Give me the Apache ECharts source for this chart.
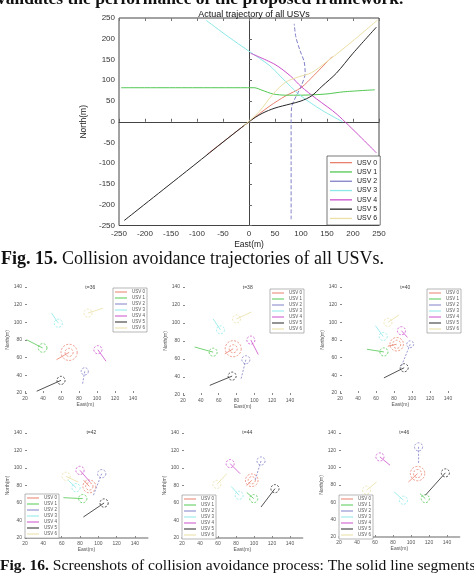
<!DOCTYPE html>
<html>
<head>
<meta charset="utf-8">
<script src="https://cdn.jsdelivr.net/npm/echarts@6/dist/echarts.min.js"></script>
<style>
    html, body { margin: 0; background: #fff; }
    #chart { width: 474px; height: 576px; }
</style>
</head>
<body>
<div id="chart"></div>
<script>
    // USV names / colours
    const usvNames = ['USV 0', 'USV 1', 'USV 2', 'USV 3', 'USV 4', 'USV 5', 'USV 6'];
    const usvColors = ['#e8806c', '#52c852', '#8080c8', '#8ce8e8', '#cc4fcc', '#262626', '#eadfa4'];

    // Fig. 15: full trajectories [east, north]
    const traj0 = [[-80, -78], [-40, -39], [0, 0], [40, 38], [70, 62], [100, 82], [125, 112], [160, 157]];
    const traj1 = [[-246, 82], [-100, 82], [10, 82], [25, 76], [46, 67], [72, 64], [100, 64], [123, 65], [150, 67], [181, 72], [242, 77]];
    const traj2 = [[81, -235], [81, -100], [81, 0], [82, 35], [90, 60], [100, 85], [108, 118], [106, 145], [98, 172], [90, 205], [87, 236]];
    const traj3 = [[-82, 244], [-40, 205], [0, 170], [40, 135], [60, 110], [80, 85], [100, 62], [140, 28], [180, 0]];
    const traj4 = [[3, 165], [50, 138], [80, 110], [100, 85], [130, 55], [170, 17], [245, -75]];
    const traj5 = [[-240, -238], [-120, -119], [0, 0], [25, 20], [50, 33], [80, 43], [100, 50], [120, 62], [140, 85], [168, 117], [200, 165], [245, 228]];
    const traj6 = [[-10, -10], [20, 25], [45, 65], [70, 95], [95, 108], [120, 118], [150, 145], [200, 195], [248, 246]];
    const trajectories = [traj0, traj1, traj2, traj3, traj4, traj5, traj6];

    const mainTicks = [-250, 250, 50];

    // Fig. 16 snapshots, one row per USV: [east, north, radius, outer radius, segment end east, segment end north]
    const snapTitles = ['t=36', 't=38', 't=40', 't=42', 't=44', 't=46'];
    const snap36 = [
        [69, 66, 4.5, 9, 55, 57.7],
        [39.6, 71, 4.8, 0, 21.8, 80.3],
        [86.4, 44.5, 4, 0, 83.8, 29.4],
        [57, 99, 4.5, 0, 49.5, 110.5],
        [101, 69, 4.5, 0, 110, 56],
        [60, 34.3, 4.5, 0, 33, 22],
        [90, 110.5, 4.5, 0, 106.7, 116]
    ];
    const snap38 = [
        [76.3, 71.4, 4.5, 9, 66.9, 65.7],
        [53.8, 67.6, 4.5, 0, 33.1, 73.3],
        [90.5, 59.2, 4.5, 0, 84.9, 37.1],
        [62, 92.4, 4.5, 0, 53.8, 104.6],
        [96.1, 81, 4.5, 0, 104.4, 65],
        [75.1, 41, 4.5, 0, 50, 30.7],
        [80, 104.6, 4.5, 0, 96.9, 112.2]
    ];
    const snap40 = [
        [83, 75.2, 4.5, 7.5, 73, 73],
        [68.8, 66.5, 4.5, 0, 50, 69.5],
        [98, 75.2, 3.8, 0, 87.5, 48.6],
        [68, 84, 4.5, 0, 59.4, 96.2],
        [88.3, 90.5, 4.5, 0, 95, 82.9],
        [91.3, 48.6, 4.5, 0, 68.8, 37.1],
        [73.3, 100, 4.5, 0, 85.6, 108.4]
    ];
    const snap42 = [
        [90.2, 79, 4, 7, 84, 86],
        [83, 65, 4.5, 0, 61.9, 66.1],
        [103.7, 93.5, 4.5, 0, 94.6, 68.8],
        [75.7, 77.5, 4.5, 0, 67.3, 85.9],
        [80, 97.3, 4.5, 0, 91, 84],
        [106.3, 60, 4.5, 0, 83.7, 44],
        [64.8, 90.5, 4.5, 0, 78, 84]
    ];
    const snap44 = [
        [97.5, 86, 4, 7, 92, 80],
        [99.7, 65, 4.5, 0, 92, 72],
        [107.8, 108, 4.5, 0, 101.2, 86],
        [83.5, 68.8, 4.5, 0, 74.6, 79],
        [73.5, 105, 4.5, 0, 84.6, 93.5],
        [123.3, 76.4, 4.5, 0, 107.8, 55.4],
        [58.7, 81.3, 4.5, 0, 69.8, 93.5]
    ];
    const snap46 = [
        [107.3, 93.2, 4.5, 8, 97.2, 83.5],
        [115.9, 64.3, 4.5, 0, 110, 70],
        [108.4, 124, 4.5, 0, 108.4, 104.7],
        [91.6, 62.4, 4.5, 0, 81.2, 72],
        [65.5, 112.4, 4.5, 0, 76.7, 102.8],
        [138.2, 94, 4.5, 0, 115.9, 68.1],
        [50.6, 74, 4.5, 0, 61.8, 83.5]
    ];
    const snapshots = [snap36, snap38, snap40, snap42, snap44, snap46];
    const snapXTicks = [20, 154, 20];
    const snapYTicks = [20, 140, 20];

    // layout of the six small panels (px)
    const panels = [
        { left: 25, top: 287, width: 120.6, height: 106, legend: [113, 288], title: 280 },
        { left: 183, top: 287, width: 119.5, height: 108, legend: [270, 289], title: 280 },
        { left: 340, top: 287, width: 120.6, height: 106, legend: [427, 289], title: 280 },
        { left: 25, top: 433, width: 122.8, height: 105, legend: [25, 494], title: 425, axisLine: true },
        { left: 182, top: 433, width: 120.6, height: 105, legend: [182, 495], title: 425, axisLine: true },
        { left: 339, top: 433, width: 120.6, height: 104, legend: [339, 495], title: 425, axisLine: true }
    ];

    const serif = '"Liberation Serif", "DejaVu Serif", serif';
    const sans = '"Liberation Sans", Arial, sans-serif';

    const renderUsv = (params, api) => {
        const c = api.coord([api.value(0), api.value(1)]);
        const e = api.coord([api.value(4), api.value(5)]);
        const r = api.size([api.value(2), 0])[0];
        const ro = api.size([api.value(3), 0])[0];
        const color = api.visual('color');
        const dashed = params.seriesName === 'USV 2';
        const children = [
            { type: 'circle', shape: { cx: c[0], cy: c[1], r: r },
              style: { fill: 'none', stroke: color, lineWidth: 0.8, lineDash: [2, 1.5] } },
            { type: 'line', shape: { x1: c[0], y1: c[1], x2: e[0], y2: e[1] },
              style: { stroke: color, lineWidth: 0.8, lineDash: dashed ? [2, 1.5] : null } }
        ];
        if (ro > 0) {
            children.push({ type: 'circle', shape: { cx: c[0], cy: c[1], r: ro },
                style: { fill: 'none', stroke: color, lineWidth: 0.8, lineDash: [2, 1.5] } });
        }
        return { type: 'group', children: children };
    };

    const grids = [{ left: 119, top: 18, width: 260, height: 207.5, show: true, borderColor: '#444', borderWidth: 1 }];
    const xAxes = [
        {
            gridIndex: 0, type: 'value', min: mainTicks[0], max: mainTicks[1], interval: mainTicks[2],
            name: 'East(m)', nameLocation: 'middle', nameGap: 15,
            nameTextStyle: { fontSize: 8.5, color: '#222', fontFamily: sans },
            axisLine: { lineStyle: { color: '#444' } },
            axisTick: { inside: true, length: 3, lineStyle: { color: '#666' } },
            axisLabel: { fontSize: 8, color: '#333', fontFamily: sans, margin: 4 },
            splitLine: { show: false }
        },
        {
            gridIndex: 0, type: 'value', position: 'top', min: mainTicks[0], max: mainTicks[1], interval: mainTicks[2],
            axisLine: { show: false }, axisLabel: { show: false },
            axisTick: { inside: true, length: 3, lineStyle: { color: '#777' } }, splitLine: { show: false }
        }
    ];
    const yAxes = [
        {
            gridIndex: 0, type: 'value', min: mainTicks[0], max: mainTicks[1], interval: mainTicks[2],
            name: 'North(m)', nameLocation: 'middle', nameGap: 22,
            nameTextStyle: { fontSize: 8.5, color: '#222', fontFamily: sans },
            axisLine: { lineStyle: { color: '#444' } },
            axisTick: { inside: true, length: 3, lineStyle: { color: '#666' } },
            axisLabel: { fontSize: 8, color: '#333', fontFamily: sans, margin: 4 },
            splitLine: { show: false }
        }
    ];
    const titles = [{
        text: 'Actual trajectory of all USVs', left: 249, top: 5, textAlign: 'center',
        textStyle: { fontSize: 9, fontWeight: 'normal', color: '#111', fontFamily: sans }
    }];
    const legendData = usvNames.map((n, i) => ({ name: n, itemStyle: { color: usvColors[i] } }));
    const legends = [{
        left: 327, top: 156, orient: 'vertical', data: legendData, icon: 'rect',
        itemWidth: 22, itemHeight: 1.3, itemGap: 0, padding: [2, 3, 2, 3],
        borderColor: '#555', borderWidth: 0.8, backgroundColor: '#fff',
        selectedMode: false,
        textStyle: { fontSize: 7, lineHeight: 9.3, color: '#222', fontFamily: sans }
    }];

    const series = trajectories.map((t, i) => ({
        name: usvNames[i], type: 'line', xAxisIndex: 0, yAxisIndex: 0, data: t,
        showSymbol: false, smooth: 0.3, color: usvColors[i],
        lineStyle: { width: 1, color: usvColors[i], type: i === 2 ? 'dashed' : 'solid' }
    }));

    panels.forEach((p, k) => {
        const g = k + 1;
        grids.push({ left: p.left, top: p.top, width: p.width, height: p.height });
        xAxes.push({
            gridIndex: g, type: 'value', min: snapXTicks[0], max: snapXTicks[1], interval: snapXTicks[2],
            name: 'East(m)', nameLocation: 'middle', nameGap: 9,
            nameTextStyle: { fontSize: 5, color: '#555', fontFamily: sans },
            axisLine: { show: !!p.axisLine, lineStyle: { color: '#999', width: 1.5 } },
            axisTick: { inside: true, length: 2, lineStyle: { color: '#888' } },
            axisLabel: { fontSize: 5, color: '#555', fontFamily: sans, margin: 3, showMaxLabel: false },
            splitLine: { show: false }
        });
        yAxes.push({
            gridIndex: g, type: 'value', min: snapYTicks[0], max: snapYTicks[1], interval: snapYTicks[2],
            name: 'North(m)', nameLocation: 'middle', nameGap: 10,
            nameTextStyle: { fontSize: 5, color: '#555', fontFamily: sans },
            axisLine: { show: false },
            axisTick: { inside: true, length: 2, lineStyle: { color: '#888' } },
            axisLabel: { fontSize: 5, color: '#555', fontFamily: sans, margin: 3 },
            splitLine: { show: false }
        });
        titles.push({
            text: snapTitles[k], left: p.left + p.width / 2, top: p.title, textAlign: 'center',
            textStyle: { fontSize: 5, fontWeight: 'normal', color: '#444', fontFamily: sans }
        });
        legends.push({
            left: p.legend[0], top: p.legend[1], orient: 'vertical', data: legendData, icon: 'rect',
            itemWidth: 12, itemHeight: 1, itemGap: 0, padding: [1, 2, 1, 2],
            borderColor: '#888', borderWidth: 0.6, backgroundColor: '#fff', selectedMode: false,
            textStyle: { fontSize: 4.5, lineHeight: 6, color: '#555', fontFamily: sans }
        });
        snapshots[k].forEach((row, i) => {
            series.push({
                name: usvNames[i], type: 'custom', xAxisIndex: g + 1, yAxisIndex: g,
                data: [row], renderItem: renderUsv, color: usvColors[i],
                itemStyle: { color: usvColors[i] }, clip: true
            });
        });
    });

    const option = {
        backgroundColor: '#fff',
        animation: false,
        title: titles,
        legend: legends,
        grid: grids,
        xAxis: xAxes,
        yAxis: yAxes,
        series: series,
        graphic: [
            { type: 'text', left: -3, top: -10,
              style: { text: 'validates the performance of the proposed framework.', fontSize: 17.5, fontWeight: 'bold', fontFamily: serif, fill: '#111' } },
            { type: 'text', left: 1, top: 250,
              style: { text: '{b|Fig. 15.} Collision avoidance trajectories of all USVs.', fontSize: 18, fontFamily: serif, fill: '#111',
                       rich: { b: { fontWeight: 'bold', fontSize: 18, fontFamily: serif } } } },
            { type: 'text', left: 0, top: 558,
              style: { text: '{b|Fig. 16.} Screenshots of collision avoidance process: The solid line segments', fontSize: 15.6, fontFamily: serif, fill: '#111',
                       rich: { b: { fontWeight: 'bold', fontSize: 15.6, fontFamily: serif } } } }
        ]
    };

    const myChart = echarts.init(document.getElementById('chart'));
    myChart.setOption(option);
</script>
</body>
</html>
